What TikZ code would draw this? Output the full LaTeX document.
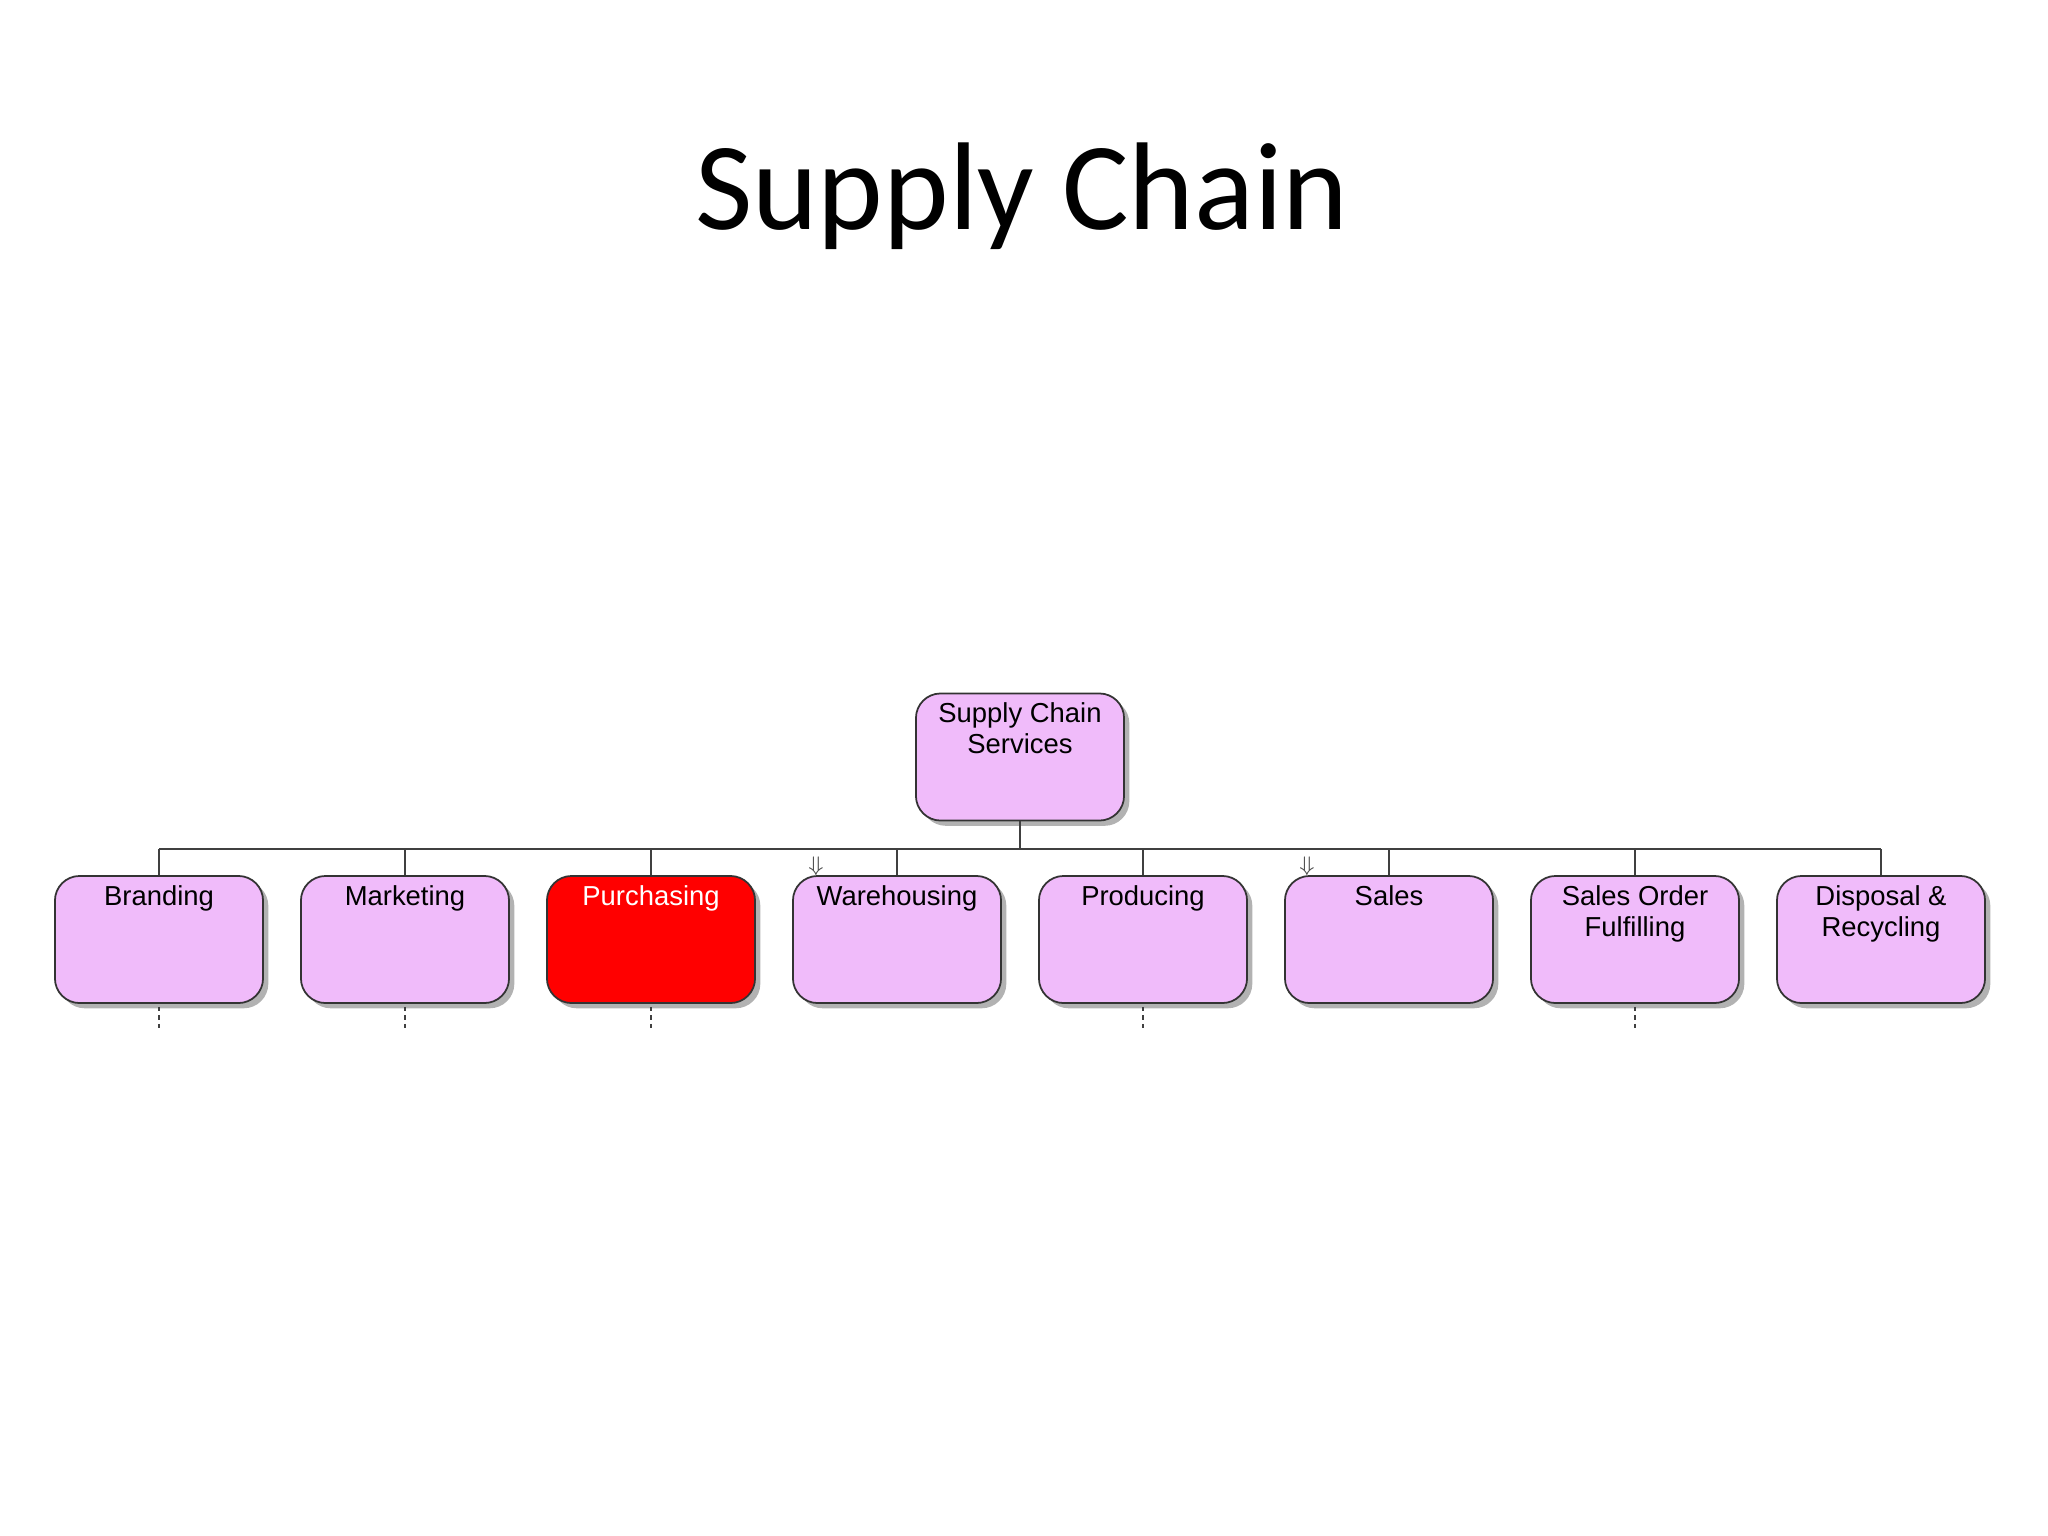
\documentclass[tikz,border=0pt]{standalone}
\usepackage{fontspec}
\setmainfont{Liberation Sans}
\newfontfamily\titlefont{Carlito}
\usetikzlibrary{shadows}
\definecolor{boxfill}{RGB}{240,187,250}
\begin{document}
\begin{tikzpicture}[x=0.01cm,y=-0.01cm,
  box/.style={draw=black!80,line width=0.5pt,rounded corners=7pt,fill=boxfill,minimum width=2.08cm,minimum height=1.27cm,
    drop shadow={shadow xshift=1.5pt,shadow yshift=-1.5pt,fill=black!30,opacity=1}},
  lbl/.style={font=\fontsize{7.8}{9}\selectfont,align=center,anchor=north},
  conn/.style={draw=black!75,line width=0.5pt}]
\useasboundingbox (0,0) rectangle (2048,1536);
\node[font=\titlefont\fontsize{35.5}{42}\selectfont] (title) at (1022,196) {Supply Chain};
\node[box] (root) at (1020,757) {};
\node[lbl] at (1020,690) {Supply Chain\\Services};
\foreach \i/\t/\n in {0/Branding/b0,1/Marketing/b1,2/Purchasing/b2,3/Warehousing/b3,4/Producing/b4,5/Sales/b5,6/{Sales Order\\Fulfilling}/b6,7/{Disposal \&\\Recycling}/b7}{
  \pgfmathsetmacro\cx{159+246*\i}
  \ifnum\i=2
    \node[box,fill=red] (\n) at (\cx,939.5) {};
    \node[lbl,text=white] at (\cx,873) {\t};
  \else
    \node[box] (\n) at (\cx,939.5) {};
    \node[lbl] at (\cx,873) {\t};
  \fi
}
\coordinate (bus) at (0,849);
\draw[conn] (root.south) -- (root.south |- bus);
\draw[conn] (b0.north |- bus) -- (b7.north |- bus);
\foreach \n in {b0,b1,b2,b3,b4,b5,b6,b7}{\draw[conn] (\n.north |- bus) -- (\n.north);}
\foreach \n in {b0,b1,b2,b4,b6}{
  \coordinate (\n e) at ([yshift=-0.26cm]\n.south);
  \draw[conn,dash pattern=on 1.2pt off 1.2pt] ([yshift=-0.03cm]\n.south) -- (\n e);}
\foreach \p in {(816,866),(1307,866)}{
  \node[inner sep=0pt,font=\fontsize{6}{6}\selectfont,text=black!70] at \p {$\Downarrow$};}
\end{tikzpicture}
\end{document}
